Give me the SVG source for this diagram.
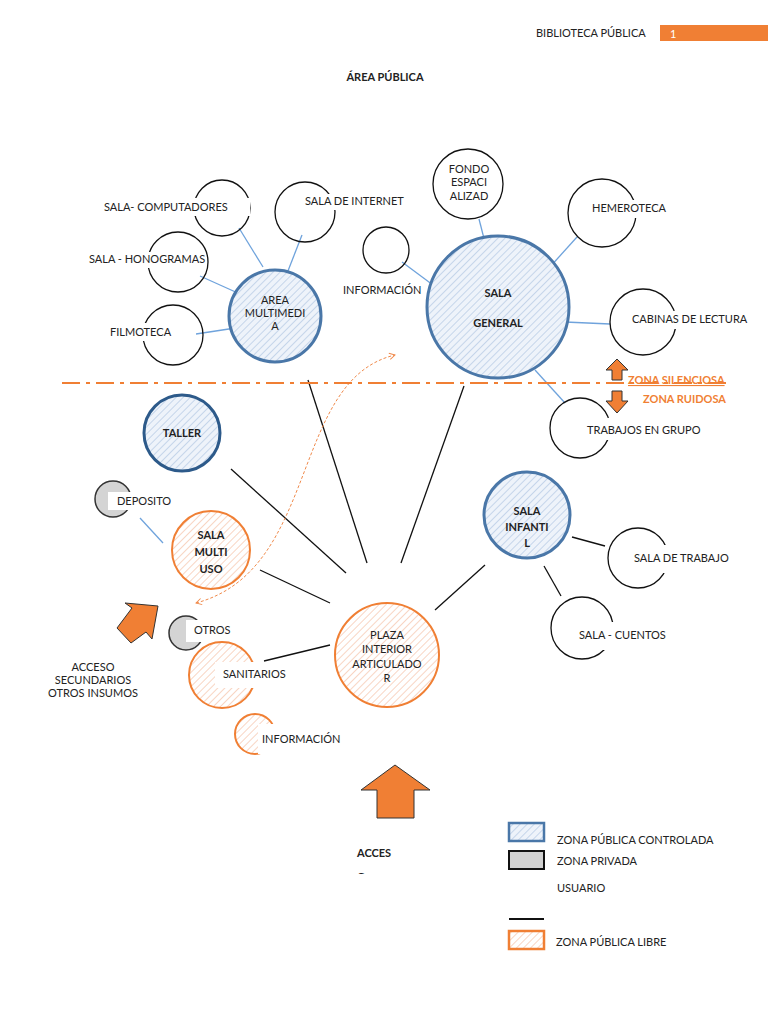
<svg xmlns="http://www.w3.org/2000/svg" width="768" height="1024" viewBox="0 0 768 1024">
<defs>
<pattern id="hb" width="5" height="5" patternUnits="userSpaceOnUse" patternTransform="rotate(45)"><rect width="5" height="5" fill="#eef3fa"/><line x1="0" y1="0" x2="0" y2="5" stroke="#a9c2e0" stroke-width="1.2"/></pattern>
<pattern id="ho" width="5" height="5" patternUnits="userSpaceOnUse" patternTransform="rotate(45)"><rect width="5" height="5" fill="#fff"/><line x1="0" y1="0" x2="0" y2="5" stroke="#f4b99a" stroke-width="1.2"/></pattern>
<clipPath id="ac"><rect x="340" y="830" width="120" height="44"/></clipPath>
<marker id="ch" viewBox="0 0 10 10" refX="8" refY="5" markerWidth="8" markerHeight="8" orient="auto-start-reverse"><path d="M1,1 L8,5 L1,9" fill="none" stroke="#f08a4b" stroke-width="1.2"/></marker>
</defs>
<style>
text{font-family:Lato,"Open Sans","Liberation Sans",sans-serif;fill:#222;font-size:11px}
.c{text-anchor:middle}
.b{font-weight:bold}
.k{fill:none;stroke:#111;stroke-width:1.3}
.blue{fill:url(#hb);stroke:#4a77a8;stroke-width:3}
.or{fill:url(#ho);stroke:#f07f34;stroke-width:2}
.gr{fill:#d4d4d4;stroke:#333;stroke-width:1.5}
.lb{stroke:#6fa3dc;stroke-width:1.3}
.bl{stroke:#111;stroke-width:1.3}
.w{fill:#fff}
</style>
<rect width="768" height="1024" fill="#fff"/>
<g id="header">
<text x="536" y="37" font-size="12">BIBLIOTECA PÚBLICA</text>
<rect x="660" y="25" width="108" height="16" fill="#f07f34"/>
<text x="670" y="38" style="fill:#fff" font-size="12">1</text>
<text x="385" y="81" class="c b" font-size="13" font-family="Liberation Serif">ÁREA PÚBLICA</text>
</g>
<g id="connectors">
<line class="lb" x1="239" y1="228" x2="263" y2="267"/>
<line class="lb" x1="302" y1="235" x2="286" y2="276"/>
<line class="lb" x1="200" y1="276" x2="240" y2="294"/>
<line class="lb" x1="196" y1="334" x2="242" y2="327"/>
<line class="lb" x1="479" y1="219" x2="489" y2="258"/>
<line class="lb" x1="577" y1="237" x2="549" y2="268"/>
<line class="lb" x1="402" y1="262" x2="437" y2="288"/>
<line class="lb" x1="565" y1="322" x2="610" y2="324"/>
<line class="lb" x1="535" y1="370" x2="565" y2="403"/>
<line class="lb" x1="140" y1="518" x2="163" y2="543"/>
<line class="bl" x1="308" y1="380" x2="367" y2="563" stroke-width="2"/>
<line class="bl" x1="464" y1="386" x2="401" y2="563" stroke-width="2"/>
<line class="bl" x1="231" y1="469" x2="346" y2="573"/>
<line class="bl" x1="260" y1="570" x2="330" y2="603"/>
<line class="bl" x1="435" y1="610" x2="485" y2="565"/>
<line class="bl" x1="264" y1="661" x2="330" y2="645"/>
<line class="bl" x1="572" y1="537" x2="605" y2="546"/>
<line class="bl" x1="544" y1="566" x2="561" y2="596"/>
<path d="M196,603 C320,570 290,380 395,355" fill="none" stroke="#f08a4b" stroke-width="1" stroke-dasharray="3,2" marker-start="url(#ch)" marker-end="url(#ch)"/>
<line x1="62" y1="383" x2="730" y2="383" stroke="#f07f34" stroke-width="2" stroke-dasharray="18,6,4,6"/>
</g>
<g id="multimedia">
<circle class="blue" cx="275" cy="316" r="46"/>
<text class="c" x="275" y="304" font-size="9">AREA</text>
<text class="c" x="275" y="317" font-size="9">MULTIMEDI</text>
<text class="c" x="275" y="330" font-size="9">A</text>
</g>
<g id="computadores"><circle class="k" cx="222" cy="208" r="28"/><rect class="w" x="100" y="198" width="150" height="18"/><text x="104" y="211" font-size="10">SALA- COMPUTADORES</text></g>
<g id="internet"><circle class="k" cx="305" cy="212" r="30"/><rect class="w" x="302" y="194" width="90" height="16"/><text x="305" y="205" font-size="10">SALA DE INTERNET</text></g>
<g id="honogramas"><circle class="k" cx="178" cy="262" r="30"/><rect class="w" x="86" y="252" width="110" height="16"/><text x="89" y="263" font-size="10">SALA - HONOGRAMAS</text></g>
<g id="filmoteca"><circle class="k" cx="173" cy="335" r="30"/><rect class="w" x="104" y="323" width="92" height="18"/><text x="110" y="336" font-size="11">FILMOTECA</text></g>
<g id="general">
<circle class="blue" cx="498" cy="307" r="71"/>
<text class="c b" x="498" y="297" font-size="12">SALA</text>
<text class="c b" x="498" y="327" font-size="12">GENERAL</text>
</g>
<g id="fondo"><circle class="k" cx="468" cy="184" r="35"/><text class="c" x="469" y="173" font-size="9">FONDO</text><text class="c" x="469" y="186" font-size="9">ESPACI</text><text class="c" x="469" y="200" font-size="9">ALIZAD</text></g>
<g id="hemeroteca"><circle class="k" cx="602" cy="213" r="34"/><rect class="w" x="590" y="200" width="80" height="18"/><text x="592" y="212" font-size="11">HEMEROTECA</text></g>
<g id="informacion1"><circle class="k" cx="386" cy="250" r="23"/><text x="343" y="294" font-size="10">INFORMACIÓN</text></g>
<g id="cabinas"><circle class="k" cx="643" cy="322" r="33"/><rect class="w" x="627" y="311" width="120" height="18"/><text x="632" y="323" font-size="11">CABINAS DE LECTURA</text></g>
<g id="trabajos"><circle class="k" cx="580" cy="428" r="30"/><rect class="w" x="583" y="418" width="120" height="22"/><text x="587" y="434" font-size="11">TRABAJOS EN GRUPO</text></g>
<g id="zonas">
<polygon points="617,359 628,370 622,370 622,380 612,380 612,370 606,370" fill="#f07f34" stroke="#333"/>
<polygon points="617,413 628,401 622,401 622,391 612,391 612,401 606,401" fill="#f07f34" stroke="#333"/>
<text x="628" y="384" class="b" font-size="12" style="fill:#f07f34;text-decoration:underline">ZONA SILENCIOSA</text>
<text x="643" y="403" class="b" font-size="12" style="fill:#f07f34">ZONA RUIDOSA</text>
</g>
<g id="taller"><circle cx="182" cy="433" r="38" fill="url(#hb)" stroke="#2d5a8a" stroke-width="3"/><text class="c b" x="182" y="437" font-size="10">TALLER</text></g>
<g id="deposito"><circle class="gr" cx="113" cy="499" r="18"/><rect class="w" x="108" y="492" width="60" height="18"/><text x="117" y="505" font-size="10">DEPOSITO</text></g>
<g id="multiuso"><circle class="or" cx="211" cy="550" r="39"/><text class="c b" x="211" y="539" font-size="12">SALA</text><text class="c b" x="211" y="556" font-size="12">MULTI</text><text class="c b" x="211" y="573" font-size="12">USO</text></g>
<g id="acceso2"><polygon points="117,628 132,608 125,603 158,606 152,639 146,632 131,643" fill="#f07f34" stroke="#333"/><text class="c" x="93" y="671" font-size="10">ACCESO</text><text class="c" x="93" y="684" font-size="10">SECUNDARIOS</text><text class="c" x="93" y="697" font-size="10">OTROS INSUMOS</text></g>
<g id="otros"><circle class="gr" cx="186" cy="633" r="17"/><rect class="w" x="186" y="620" width="46" height="22"/><text x="194" y="634" font-size="10">OTROS</text></g>
<g id="sanitarios"><circle class="or" cx="222" cy="675" r="33"/><rect class="w" x="215" y="662" width="74" height="26"/><text x="223" y="678" font-size="11">SANITARIOS</text></g>
<g id="plaza"><circle class="or" cx="387" cy="655" r="52"/><text class="c" x="387" y="639" font-size="9">PLAZA</text><text class="c" x="387" y="653" font-size="9">INTERIOR</text><text class="c" x="387" y="668" font-size="9">ARTICULADO</text><text class="c" x="387" y="682" font-size="9">R</text></g>
<g id="informacion2"><circle class="or" cx="255" cy="734" r="20"/><rect class="w" x="258" y="724" width="96" height="30"/><text x="262" y="743" font-size="13">INFORMACIÓN</text></g>
<g id="infantil"><circle class="blue" cx="527" cy="515" r="43"/><text class="c b" x="527" y="515" font-size="11">SALA</text><text class="c b" x="527" y="531" font-size="11">INFANTI</text><text class="c b" x="527" y="547" font-size="11">L</text></g>
<g id="trabajo"><circle class="k" cx="638" cy="558" r="30"/><rect class="w" x="630" y="545" width="100" height="28"/><text x="634" y="562" font-size="11">SALA DE TRABAJO</text></g>
<g id="cuentos"><circle class="k" cx="582" cy="628" r="31"/><rect class="w" x="575" y="622" width="100" height="28"/><text x="579" y="639" font-size="11">SALA - CUENTOS</text></g>
<g id="acceso">
<polygon points="361,790 395,765 430,790 414,790 414,818 377,818 377,790" fill="#f07f34" stroke="#333"/>
<g clip-path="url(#ac)"><text x="357" y="857" class="b" font-size="19" font-family="DejaVu Sans">ACCES</text><text x="357" y="881" class="b" font-size="19" font-family="DejaVu Sans">O</text></g>
</g>
<g id="legend">
<rect x="509" y="823" width="35" height="18" fill="url(#hb)" stroke="#4a77a8" stroke-width="2.5"/>
<rect x="509" y="851" width="35" height="18" fill="#d0d0d0" stroke="#111" stroke-width="2"/>
<line x1="509" y1="919" x2="544" y2="919" stroke="#111" stroke-width="2"/>
<rect x="509" y="931" width="35" height="18" fill="url(#ho)" stroke="#f07f34" stroke-width="2.5"/>
<text x="557" y="844">ZONA PÚBLICA CONTROLADA</text>
<text x="557" y="865">ZONA PRIVADA</text>
<text x="557" y="892">USUARIO</text>
<text x="556" y="946">ZONA PÚBLICA LIBRE</text>
</g>
</svg>
